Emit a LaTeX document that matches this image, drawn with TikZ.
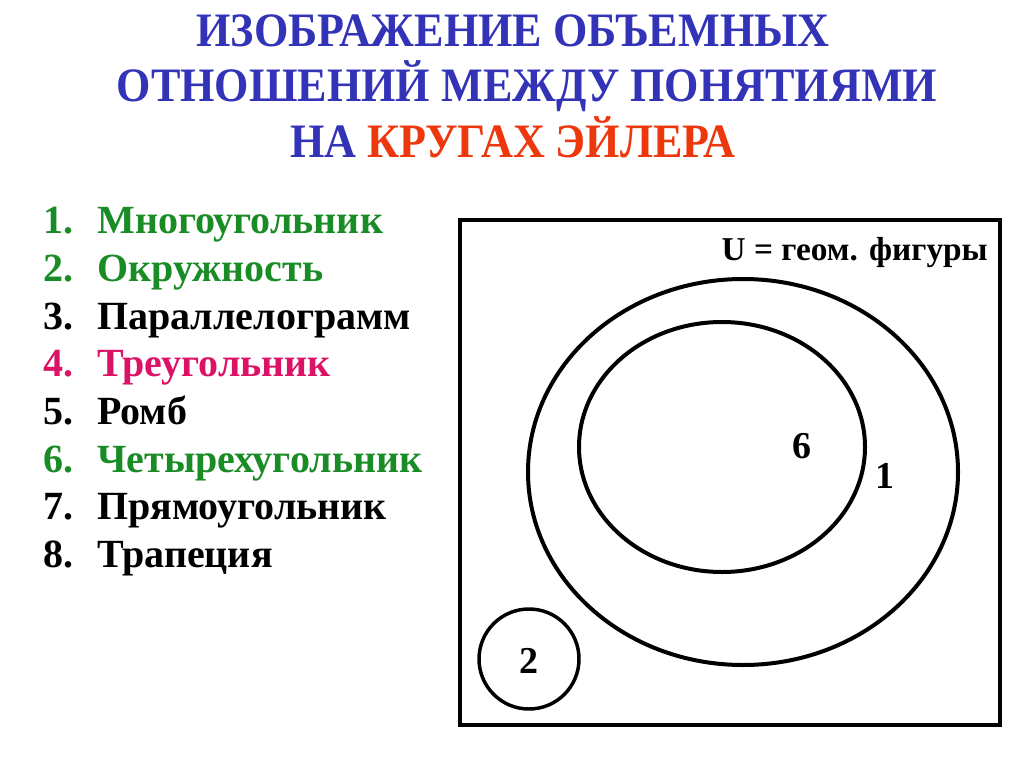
\documentclass[tikz,border=0pt]{standalone}
\usepackage{fontspec}
\setmainfont{Liberation Serif}
\newfontfamily\titlefont[FakeStretch=0.92]{Liberation Serif}
\definecolor{zzttcc}{rgb}{0.2,0.2,0.72}
\definecolor{ffttqq}{rgb}{0.93,0.22,0.05}
\definecolor{qqzzqq}{rgb}{0.1,0.55,0.15}
\definecolor{ddqqvv}{rgb}{0.86,0.07,0.4}
\tikzset{
    title/.style={anchor=base, inner sep=0pt, font=\titlefont\bfseries\fontsize{36}{36}\selectfont},
    num/.style={anchor=base west, inner sep=0pt, font=\bfseries\fontsize{30}{30}\selectfont},
    word/.style={anchor=base west, inner sep=0pt, font=\bfseries\fontsize{30}{30}\selectfont},
    setlabel/.style={anchor=base, inner sep=0pt, font=\bfseries\fontsize{28.5}{28.5}\selectfont}
}

\begin{document}
\begin{tikzpicture}[x=0.75pt, y=-0.75pt]
    \useasboundingbox (0,0) rectangle (1024,767);
    % title
    \node[title, color=zzttcc] (title1) at (513,47) {ИЗОБРАЖЕНИЕ ОБЪЕМНЫХ};
    \node[title, color=zzttcc] (title2) at (527,101) {ОТНОШЕНИЙ МЕЖДУ ПОНЯТИЯМИ};
    \node[title] (title3) at (513,157) {\textcolor{zzttcc}{НА} \textcolor{ffttqq}{КРУГАХ ЭЙЛЕРА}};
    % list of concepts
    \node[num, color=qqzzqq] (n1) at (43,233) {1.};
    \node[word, color=qqzzqq] (w1) at (97,233) {Многоугольник};
    \node[num, color=qqzzqq] (n2) at (43,281) {2.};
    \node[word, color=qqzzqq] (w2) at (97,281) {Окружность};
    \node[num] (n3) at (43,329) {3.};
    \node[word] (w3) at (97,329) {Параллелограмм};
    \node[num, color=ddqqvv] (n4) at (43,376) {4.};
    \node[word, color=ddqqvv] (w4) at (97,376) {Треугольник};
    \node[num] (n5) at (43,424) {5.};
    \node[word] (w5) at (97,424) {Ромб};
    \node[num, color=qqzzqq] (n6) at (43,472) {6.};
    \node[word, color=qqzzqq] (w6) at (97,472) {Четырехугольник};
    \node[num] (n7) at (43,519) {7.};
    \node[word] (w7) at (97,519) {Прямоугольник};
    \node[num] (n8) at (43,567) {8.};
    \node[word] (w8) at (97,567) {Трапеция};
    % Euler circles
    \draw [line width=3pt] (460,220) rectangle (1000,725);
    \draw [line width=3pt] (743,472) ellipse [x radius=215, y radius=193];
    \draw [line width=3pt] (722,447) ellipse [x radius=143, y radius=125];
    \draw [line width=2.6pt] (529,659) circle (50);
    \node[anchor=base east, inner sep=0pt, font=\bfseries\fontsize{25}{25}\selectfont] (U) at (988,260) {U = геом. фигуры};
    \node[setlabel] (s6) at (802,458) {6};
    \node[setlabel] (s1) at (885,488) {1};
    \node[setlabel] (s2) at (529,673) {2};
\end{tikzpicture}
\end{document}
